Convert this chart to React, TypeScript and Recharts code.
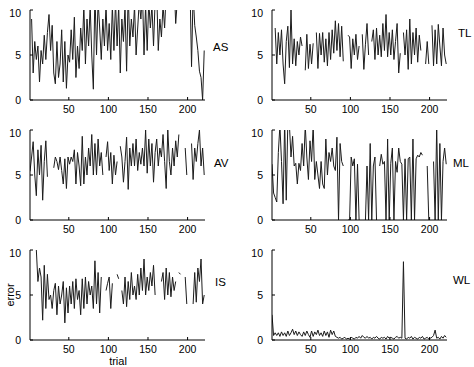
import { Line, LineChart, XAxis, YAxis } from "recharts";

// every second trial
const trials = [
  1, 3, 5, 7, 9, 11, 13, 15, 17, 19, 21, 23, 25, 27, 29, 31, 33, 35, 37, 39,
  41, 43, 45, 47, 49, 51, 53, 55, 57, 59, 61, 63, 65, 67, 69, 71, 73, 75, 77, 79,
  81, 83, 85, 87, 89, 91, 93, 95, 97, 99, 101, 103, 105, 107, 109, 111, 113, 115, 117, 119,
  121, 123, 125, 127, 129, 131, 133, 135, 137, 139, 141, 143, 145, 147, 149, 151, 153, 155, 157, 159,
  161, 163, 165, 167, 169, 171, 173, 175, 177, 179, 181, 183, 185, 187, 189, 191, 193, 195, 197, 199,
  201, 203, 205, 207, 209, 211, 213, 215, 217, 219, 221,
];

const xTicks = [50, 100, 150, 200];
const yTicks = [0, 5, 10];

type V = number | null;

const errorAS: V[] = [
  null, 9.0, 3.0, 6.5, 4.5, 6.0, 2.0, 5.5, 4.0, 7.2,
  4.5, 7.5, 9.5, 5.5, 8.3, 3.0, 1.8, 6.5, 2.5, 4.0,
  7.8, 2.0, 6.5, 1.3, 5.0, 4.2, 7.8, 4.5, 9.2, 2.5,
  6.0, 3.5, 8.0, 5.5, 10.5, 4.0, 9.0, 6.0, 10.5, 5.0,
  1.2, 12, 5.0, 11, 8.0, 4.5, 9.0, 6.0, 10.5, 5.5,
  8.5, 4.5, 10.5, 5.5, 11, 6.0, 10.5, 3.0, 9.0, 6.5,
  10.5, 3.2, 12, 6.0, 9.0, 7.0, 10.5, 5.0, 8.0, 11,
  9.0, 12, 5.0, 10.5, 5.5, 11, 8.0, 10.5, 6.0, 11,
  12, 5.5, 9.0, 7.0, 10.5, 8.0, 12, 13, 14, 13,
  12, 13, 8.5, 11, 13, 12, 14, 13, 12, 13,
  12, 13, 3.7, 12, 8.3, 7.0, 5.5, 3.2, 2.5, 0.0,
  5.5,
];

const errorTL: V[] = [
  null, null, 8.0, 4.0, 7.5, 5.0, 7.8, 4.0, 1.8, 6.5,
  8.2, 3.6, 10.0, 4.0, 6.8, 3.8, 6.5, 5.0, 7.0, 6.0,
  null, 3.3, 7.3, 3.5, 6.2, 4.0, 6.3, null, 7.5, 3.5,
  7.4, 5.0, 7.5, 4.2, 6.8, 3.8, 7.5, 4.5, 7.8, 5.2,
  8.8, 5.5, 8.5, 4.8, 8.2, 4.3, null, null, 7.2, 7.0,
  3.5, 6.8, 5.0, 7.3, 4.5, 6.0, null, 7.3, 3.4, 6.2,
  8.5, 5.0, null, 6.5, 7.8, 4.5, 8.0, 5.0, 7.2, 4.8,
  8.5, 5.5, 9.5, 4.8, 7.5, 5.0, 7.8, 4.5, 6.5, 8.5,
  3.0, 5.2, null, 7.5, 5.0, 7.8, 3.4, 9.0, 4.0, 7.5,
  5.0, 8.0, 4.2, 7.2, 5.5, null, null, 4.0, 6.5, 4.0,
  null, 8.3, 3.8, 7.8, 4.0, 8.4, 6.0, 3.8, 8.0, 5.0,
  4.0,
];

const errorAV: V[] = [
  5.4, 7.0, 8.7, 5.0, 2.7, 7.8, 5.0, 8.3, 2.2, 6.5,
  8.8, 4.8, null, null, null, 5.8, 7.0, 6.5, 5.6, 7.0,
  5.5, 4.0, 6.8, 3.5, 7.0, 6.2, 7.0, 6.5, 7.8, 4.0,
  7.5, 6.0, 3.8, 9.3, 4.0, 7.0, 5.0, 8.0, 6.0, 9.5,
  5.0, 8.5, 5.0, 9.0, 6.0, 7.5, 5.0, null, 7.0, 8.7,
  5.5, 7.5, 4.0, 7.2, 5.0, 6.5, null, 8.2, 7.0, 4.2,
  6.5, 9.2, 3.4, 8.0, 6.0, 8.5, 6.0, 9.0, 5.5, 7.5,
  6.2, 8.0, 6.0, 10.0, 5.2, 9.0, 6.0, 8.5, 4.2, 7.5,
  9.0, 6.0, 8.0, 7.0, 9.5, 6.5, 3.5, 10.0, 6.5, 5.0,
  8.0, 6.0, 8.8, 7.0, 9.5, null, null, null, 8.0, 5.0,
  null, null, 8.5, 4.5, 8.0, 6.5, 8.5, 10.0, 6.0, 8.0,
  5.0,
];

const errorML: V[] = [
  6.2, 3.0, 2.5, 2.0, 7.5, 10.5, 6.5, 1.8, 11, 2.2,
  11, 10.5, 7.0, 9.3, 6.0, 6.3, 4.0, 6.3, 5.5, 8.5,
  6.0, 10.5, 7.0, 4.5, 8.8, 6.5, 10.5, 4.5, 6.5, 5.0,
  3.5, 6.5, 4.0, 3.5, 9.0, 5.0, 7.5, 6.5, 8.0, 6.0,
  5.5, 9.2, 0, 8.5, 6.5, 6.0, null, null, 0, 0,
  7.0, 6.0, 6.8, 0, 6.2, 0, null, 7.5, null, 0,
  6.0, 0, 8.5, 0, 6.0, 7.0, 0, null, 6.0, 7.3,
  6.2, 6.5, 0, 9.0, 0, 6.3, 8.0, 0, 6.5, 5.3,
  8.0, 6.5, 6.2, 0, 6.8, 0, 6.8, 7.0, 0, 9.0,
  0, 6.8, 7.2, 7.0, 7.5, 7.2, null, null, 6.0, 0,
  null, null, 6.5, 0, 10.5, 0, 8.5, 0, 6.5, 8.0,
  6.2,
];

const errorIS: V[] = [
  null, null, null, null, 10.0, 6.5, 8.0, 7.0, 2.2, 8.3,
  3.5, 7.3, 4.5, 5.0, 3.5, 5.5, 6.3, 2.8, 6.0, 4.0,
  5.0, 6.5, 1.9, 5.8, 3.0, 6.0, 4.0, 6.5, 3.5, 6.8,
  4.5, 5.5, 2.8, 6.8, 3.5, 7.0, 4.0, 6.5, 5.0, 6.0,
  3.5, 8.8, 4.0, 7.5, 3.0, 7.0, null, null, 5.5, 6.3,
  7.0, 3.5, 6.3, null, null, 7.3, 6.8, null, 5.5, 4.0,
  7.0, 3.7, 6.5, 4.5, 7.5, 5.0, 6.0, 4.5, 7.3, 5.0,
  8.0, 5.5, 9.0, 5.0, 7.0, 5.5, 7.5, 6.0, 8.3, 5.0,
  null, 3.5, null, 6.5, 7.5, 4.5, 8.0, 5.0, 7.5, 4.8,
  7.0, 5.5, 6.5, null, 7.5, 7.3, null, null, 7.0, 4.0,
  null, 8.5, null, 4.0, 7.5, 4.2, 8.0, 6.5, 9.0, 4.0,
  5.0,
];

const errorWL: V[] = [
  2.8, 0.5, 0.8, 0.5, 0.8, 0.4, 0.9, 0.5, 0.8, 0.4,
  1.0, 0.5, 0.8, 1.2, 0.6, 1.0, 0.5, 0.9, 0.6, 0.4,
  0.9, 0.5, 1.0, 0.6, 0.3, 1.0, 0.4, 0.9, 0.6, 1.1,
  0.5, 0.8, 0.4, 1.0, 0.5, 0.9, 0.3, 1.1, 0.6, 1.0,
  0.4, 0.3, 0.2, 0.3, 0.1, 0.2, 0.3, 0.1, 0.2, 0.1,
  0.3, 0.2, 0.1, 0.3, 0.2, 0.4, 0.2, 0.5, 0.3, 0.2,
  0.4, 0.2, 0.3, 0.1, 0.3, 0.2, 0.4, 0.2, 0.1, 0.3,
  0.2, 0.3, 0.1, 0.4, 0.2, 0.3, 0.2, 0.1, 0.3, 0.4,
  0.2, 0.3, 0.2, 8.7, 0.2, 0.1, 0.3, 0.2, 0.4, 0.1,
  0.3, 0.2, 0.1, 0.3, 0.2, 0.4, 0.1, 0.2, 0.3, 0.1,
  0.2, 0.3, 0.5, 1.1, 0.2, 0.3, 0.1, 0.4, 0.2, 0.5,
  0.3,
];

const FONT = '"Liberation Sans", Arial, Helvetica, sans-serif';
const PLOT_W = 175;
const PLOT_H = 90;
const AXIS_W = 30;

type PanelProps = {
  values: V[];
  plotLeft: number;
  plotTop: number;
};

function Panel({ values, plotLeft, plotTop }: PanelProps) {
  const rows = trials.map((trial, i) => ({ trial, value: values[i] }));
  return (
    <div style={{ position: "absolute", left: plotLeft - AXIS_W, top: plotTop - 2 }}>
      <LineChart
        width={AXIS_W + PLOT_W + 2}
        height={PLOT_H + 22}
        data={rows}
        margin={{ top: 2, right: 2, bottom: 0, left: 0 }}
      >
        <XAxis
          dataKey="trial"
          type="number"
          domain={[1, 222]}
          allowDataOverflow
          ticks={xTicks}
          height={20}
          tickSize={-3}
          tickMargin={9}
          axisLine={{ stroke: "#000" }}
          tickLine={{ stroke: "#000" }}
          tick={{ fill: "#000", fontSize: 10.5, fontFamily: FONT }}
        />
        <XAxis
          xAxisId="top"
          orientation="top"
          dataKey="trial"
          type="number"
          domain={[1, 222]}
          allowDataOverflow
          ticks={xTicks}
          height={0}
          tickSize={-3}
          tick={false}
          axisLine={{ stroke: "#000" }}
          tickLine={{ stroke: "#000" }}
        />
        <YAxis
          type="number"
          domain={[0, 10]}
          allowDataOverflow
          ticks={yTicks}
          width={AXIS_W}
          tickSize={-3}
          tickMargin={12}
          axisLine={{ stroke: "#000" }}
          tickLine={{ stroke: "#000" }}
          tick={{ fill: "#000", fontSize: 10.5, fontFamily: FONT }}
        />
        <YAxis
          yAxisId="right"
          orientation="right"
          type="number"
          domain={[0, 10]}
          ticks={yTicks}
          width={0}
          tickSize={-3}
          tick={false}
          axisLine={{ stroke: "#000" }}
          tickLine={{ stroke: "#000" }}
        />
        <Line
          type="linear"
          dataKey="value"
          stroke="#1c1c1c"
          strokeWidth={1}
          dot={false}
          activeDot={false}
          isAnimationActive={false}
        />
      </LineChart>
    </div>
  );
}

const nameStyle = {
  position: "absolute" as const,
  fontSize: 11.5,
  fontFamily: FONT,
  color: "#000",
  lineHeight: "12px",
};

export default function App() {
  return (
    <div
      style={{
        position: "absolute",
        left: 0,
        top: 0,
        width: 474,
        height: 367,
        background: "#fff",
        overflow: "hidden",
      }}
    >
      <Panel values={errorAS} plotLeft={30} plotTop={10} />
      <Panel values={errorTL} plotLeft={272} plotTop={10} />
      <Panel values={errorAV} plotLeft={30} plotTop={130} />
      <Panel values={errorML} plotLeft={272} plotTop={130} />
      <Panel values={errorIS} plotLeft={30} plotTop={250} />
      <Panel values={errorWL} plotLeft={272} plotTop={250} />

      <div style={{ ...nameStyle, left: 213, top: 41 }}>AS</div>
      <div style={{ ...nameStyle, left: 458, top: 27 }}>TL</div>
      <div style={{ ...nameStyle, left: 214, top: 157 }}>AV</div>
      <div style={{ ...nameStyle, left: 453, top: 157 }}>ML</div>
      <div style={{ ...nameStyle, left: 215, top: 276 }}>IS</div>
      <div style={{ ...nameStyle, left: 453, top: 274 }}>WL</div>

      <div
        style={{
          position: "absolute",
          left: 10,
          top: 295,
          fontSize: 11,
          fontFamily: FONT,
          lineHeight: "12px",
          transform: "translate(-50%, -50%) rotate(-90deg)",
        }}
      >
        error
      </div>
      <div
        style={{
          position: "absolute",
          left: 118,
          top: 361,
          fontSize: 11,
          fontFamily: FONT,
          lineHeight: "12px",
          transform: "translate(-50%, -50%)",
        }}
      >
        trial
      </div>
    </div>
  );
}
